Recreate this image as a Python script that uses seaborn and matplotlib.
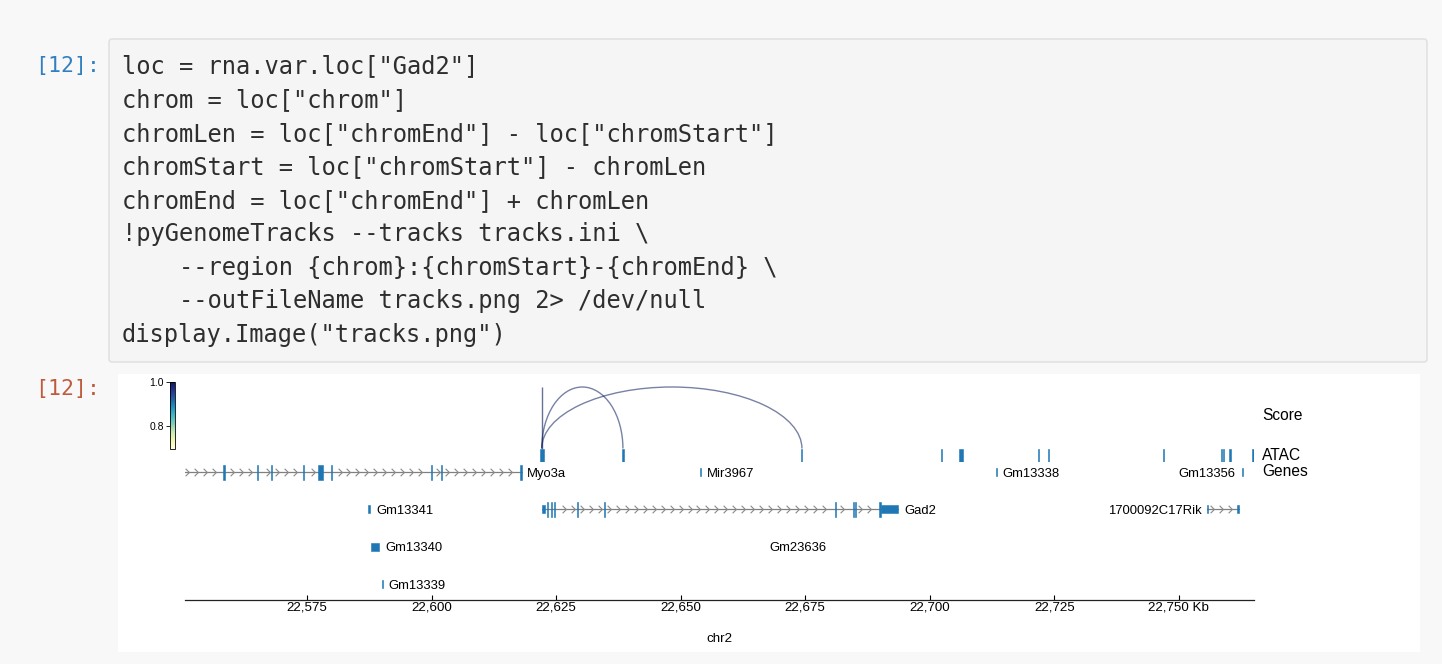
import numpy as np
import matplotlib
matplotlib.use("Agg")
import matplotlib.pyplot as plt
import seaborn as sns
from matplotlib.patches import FancyBboxPatch, Rectangle, Arc
from matplotlib.transforms import IdentityTransform
from matplotlib.colors import Normalize
from matplotlib.cm import ScalarMappable

sns.set_theme(style="ticks")
plt.rcParams['font.family'] = ['Liberation Sans', 'DejaVu Sans']

# ------------------------------------------------------------------ data
prompt_text = "[12]:"
code_lines = [
    'loc = rna.var.loc["Gad2"]',
    'chrom = loc["chrom"]',
    'chromLen = loc["chromEnd"] - loc["chromStart"]',
    'chromStart = loc["chromStart"] - chromLen',
    'chromEnd = loc["chromEnd"] + chromLen',
    '!pyGenomeTracks --tracks tracks.ini \\',
    '    --region {chrom}:{chromStart}-{chromEnd} \\',
    '    --outFileName tracks.png 2> /dev/null',
    'display.Image("tracks.png")',
]

chrom_name = "chr2"
region_start_kb = 22550.4
region_end_kb = 22765.1
tick_values = [22575, 22600, 22625, 22650, 22675, 22700, 22725, 22750]
tick_labels = ["22,575", "22,600", "22,625", "22,650", "22,675",
               "22,700", "22,725", "22,750 Kb"]

track_titles = ["Score", "ATAC", "Genes"]

# ATAC peaks (kb)
atac_starts = [22621.7, 22638.25, 22674.24, 22702.25, 22705.9, 22721.68,
               22723.78, 22746.78, 22758.4, 22758.9, 22760.18, 22764.7]
atac_ends = [22622.5, 22638.55, 22674.44, 22702.5, 22706.7, 22721.92,
             22724.02, 22747.02, 22758.6, 22759.1, 22760.42, 22765.1]

# links (kb) and their scores
link_from = [22622.1, 22622.1, 22622.1]
link_to = [22622.1, 22638.4, 22674.34]
link_score = [1.0, 1.0, 1.0]
score_min, score_max = 0.7, 1.0
score_ticks = [0.8, 1.0]

# genes
gene_names = ["Myo3a", "Mir3967", "Gm13338", "Gm13356", "Gm13341", "Gad2",
              "1700092C17Rik", "Gm13340", "Gm23636", "Gm13339"]
gene_rows = [0, 0, 0, 0, 1, 1, 1, 2, 2, 3]
gene_starts = [22550.0, 22653.95, 22713.3, 22762.7, 22587.15, 22622.07,
               22755.75, 22587.9, 22666.6, 22589.95]
gene_ends = [22618.05, 22654.15, 22713.55, 22762.9, 22587.7, 22693.7,
             22762.0, 22589.5, 22666.605, 22590.25]
gene_label_side = ["right", "right", "right", "left", "right", "right",
                   "left", "right", "right", "right"]

# exons: gene index, start, end, coding (tall) or not
exon_gene = [0, 0, 0, 0, 0, 0, 0, 0, 0,
             1, 2, 3, 4,
             5, 5, 5, 5, 5, 5, 5, 5, 5, 5, 5,
             6, 6, 7, 8, 9]
exon_starts = [22558.2, 22564.85, 22567.7, 22574.1, 22577.2, 22579.8, 22599.9, 22601.9, 22617.83,
               22653.95, 22713.3, 22762.7, 22587.15,
               22622.07, 22623.1, 22624.0, 22624.5, 22629.2, 22634.6, 22681.0, 22684.5, 22684.9, 22689.9, 22690.12,
               22755.75, 22761.75, 22587.9, 22666.6, 22589.95]
exon_ends = [22558.42, 22565.07, 22567.92, 22574.32, 22578.2, 22580.02, 22600.12, 22602.12, 22618.05,
             22654.15, 22713.55, 22762.9, 22587.7,
             22622.75, 22623.32, 22624.22, 22624.72, 22629.45, 22634.85, 22681.22, 22684.72, 22685.12, 22690.12, 22693.7,
             22755.95, 22762.0, 22589.5, 22666.605, 22590.25]
exon_coding = [True] * 9 + [False] * 4 + [False] + [True] * 9 + [False] + [False] * 5

# ------------------------------------------------------------------ style / layout
W, H = 1442, 664
BG = "#f8f8f8"
CELL_BG = "#f5f5f5"
CELL_EDGE = "#dedede"
CODE_COLOR = "#2e2e2e"
IN_PROMPT = "#307fc1"
OUT_PROMPT = "#bf5b3d"
BLUE = "#1f78b4"
GRAY = "#808080"
AX0, AX1 = 184.6, 1254.0
ROW0, PITCH = 472.0, 37.3

fig = plt.figure(figsize=(W / 100, H / 100), dpi=100, facecolor=BG)


def fig_axes(x0, y0, x1, y1):
    ax = fig.add_axes([x0 / W, 1 - y1 / H, (x1 - x0) / W, (y1 - y0) / H])
    ax.set_facecolor("none")
    return ax


def px_box(x0, y0, x1, y1, **kw):
    p = FancyBboxPatch((x0, H - y1), x1 - x0, y1 - y0,
                       transform=IdentityTransform(), zorder=-10, **kw)
    fig.add_artist(p)


def fig_text(x, y, s, **kw):
    fig.text(x / W, 1 - y / H, s, **kw)


# code cell
px_box(109, 39, 1427, 362, boxstyle="round,pad=0,rounding_size=3",
       facecolor=CELL_BG, edgecolor=CELL_EDGE, linewidth=1)
fig_text(100, 72, prompt_text, ha="right", va="baseline", color=IN_PROMPT,
         family="DejaVu Sans Mono", fontsize=15.5)
for i, line in enumerate(code_lines):
    fig_text(122, 73.5 + 33.55 * i, line, ha="left", va="baseline",
             color=CODE_COLOR, family="DejaVu Sans Mono", fontsize=17.1)

# output image area
px_box(118, 374, 1420, 652, boxstyle="square,pad=0",
       facecolor="white", edgecolor="none")
fig_text(100, 395, prompt_text, ha="right", va="baseline", color=OUT_PROMPT,
         family="DejaVu Sans Mono", fontsize=15.5)

cmap = sns.color_palette("YlGnBu", as_cmap=True)
norm = Normalize(score_min, score_max)

# ---- links track
ax_links = fig_axes(AX0, 387, AX1, 448.5)
ax_links.set_xlim(region_start_kb, region_end_kb)
ax_links.set_ylim(0, 1)
ax_links.axis("off")
for a, b, s in zip(link_from, link_to, link_score):
    col = cmap(norm(s))
    if abs(b - a) < 1e-9:
        ax_links.plot([a, a], [0, 1], color=col, alpha=0.62, lw=1.0,
                      clip_on=False, solid_capstyle="butt")
    else:
        ax_links.add_patch(Arc(((a + b) / 2, 0), abs(b - a), 2, theta1=0,
                               theta2=180, color=col, alpha=0.55, lw=1.0,
                               clip_on=False))

# colorbar
cax = fig_axes(170, 382, 174.5, 448.5)
cb = fig.colorbar(ScalarMappable(norm=norm, cmap=cmap), cax=cax,
                  ticks=score_ticks)
cax.yaxis.set_ticks_position("left")
cax.tick_params(axis="y", labelsize=7.5, length=3, width=0.6, pad=1.5,
                colors="black", left=True, right=False)
cb.outline.set_linewidth(0.6)
cb.outline.set_edgecolor("black")

# ---- ATAC track
ax_atac = fig_axes(AX0, 448.5, AX1, 462)
ax_atac.set_xlim(region_start_kb, region_end_kb)
ax_atac.set_ylim(0, 1)
ax_atac.axis("off")
ax_atac.bar(atac_starts, [1] * len(atac_starts),
            width=np.array(atac_ends) - np.array(atac_starts), align="edge",
            color=BLUE, edgecolor=BLUE, linewidth=0.4)

# ---- genes track
ax_genes = fig_axes(AX0, ROW0 - PITCH / 2, AX1, ROW0 + 3.5 * PITCH)
ax_genes.set_xlim(region_start_kb, region_end_kb)
ax_genes.set_ylim(3.5, -0.5)
ax_genes.axis("off")

tall, short = 15 / PITCH, 8 / PITCH
step = 1.8
chevron = [(-0.5, 1.0), (0.5, 0.0), (-0.5, -1.0)]
for gi, (name, r, gs, ge, side) in enumerate(
        zip(gene_names, gene_rows, gene_starts, gene_ends, gene_label_side)):
    ex = [(s, e) for g, s, e in zip(exon_gene, exon_starts, exon_ends) if g == gi]
    if len(ex) > 1:
        ax_genes.plot([gs, ge], [r, r], color=GRAY, lw=0.9, zorder=1)
        pos = np.arange(gs + step / 2, ge, step)
        pos = [p for p in pos
               if all(p < s - 0.45 or p > e + 0.45 for s, e in ex)]
        ax_genes.plot(pos, [r] * len(pos), linestyle="none", marker=chevron,
                      markersize=5.4, markeredgewidth=0.8, color="#8a8a8a",
                      fillstyle="none", zorder=1)
    if side == "right":
        ax_genes.annotate(name, xy=(ge, r), xytext=(4.0, -3.4),
                          textcoords="offset points", ha="left",
                          va="baseline", fontsize=9.4, color="black")
    else:
        ax_genes.annotate(name, xy=(gs, r), xytext=(-4.5, -3.4),
                          textcoords="offset points", ha="right",
                          va="baseline", fontsize=9.4, color="black")

for g, s, e, c in zip(exon_gene, exon_starts, exon_ends, exon_coding):
    r = gene_rows[g]
    h = tall if c else short
    lw = 0.4 if (e - s) > 0.05 else 0.0
    ax_genes.add_patch(Rectangle((s, r - h / 2), e - s, h, facecolor=BLUE,
                                 edgecolor=BLUE, linewidth=lw, zorder=2))

# ---- x axis
ax_x = fig_axes(AX0, 590, AX1, 599.5)
ax_x.set_xlim(region_start_kb, region_end_kb)
ax_x.set_yticks([])
for sp in ["top", "left", "right"]:
    ax_x.spines[sp].set_visible(False)
ax_x.spines["bottom"].set_color("#222222")
ax_x.spines["bottom"].set_linewidth(0.9)
ax_x.set_xticks(tick_values)
ax_x.set_xticklabels(tick_labels)
ax_x.tick_params(axis="x", direction="in", length=3.5, width=0.8, pad=1.5,
                 labelsize=9.6, colors="black", bottom=True)
fig_text((AX0 + AX1) / 2, 641.5, chrom_name, ha="center", va="baseline",
         fontsize=9.6, color="black")

# track titles
for title, yb in zip(track_titles, [420, 460, 476.5]):
    fig_text(1262, yb, title, ha="left", va="baseline", fontsize=11.2,
             color="black")

fig.savefig("out.png", dpi=100, facecolor=BG)
